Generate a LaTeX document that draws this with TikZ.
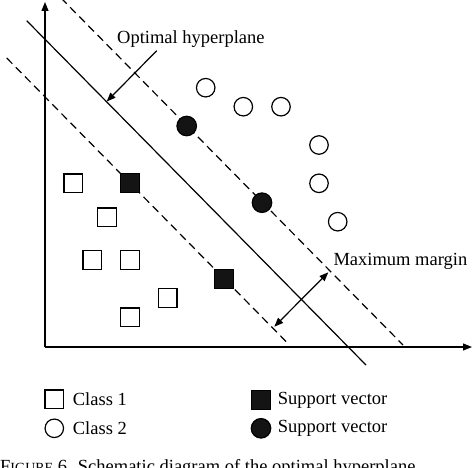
\documentclass[tikz,border=0pt]{standalone}
\usepackage{fontspec}
\setmainfont{Liberation Serif}
\usetikzlibrary{arrows.meta}
\begin{document}
\begin{tikzpicture}[x=1pt,y=-1pt,
  every node/.style={font=\fontsize{18.5}{22}\selectfont},
  ln/.style={line width=1.2pt},
  dsh/.style={line width=1.2pt, dash pattern=on 8pt off 5pt},
  tipend/.style={-{Triangle[length=9pt,width=7pt]}},
  tipboth/.style={{Triangle[length=9pt,width=7pt]}-{Triangle[length=9pt,width=7pt]}},
  osq/.style={draw, line width=1.2pt, minimum size=18.5pt, inner sep=0pt, fill=white},
  fsq/.style={draw, line width=1.2pt, minimum size=19pt, inner sep=0pt, fill=black!92},
  ocirc/.style={circle, draw, line width=1.2pt, minimum size=18.5pt, inner sep=0pt, fill=white},
  fcirc/.style={circle, draw, line width=1.2pt, minimum size=19.5pt, inner sep=0pt, fill=black!92},
  lbl/.style={anchor=west, inner sep=0pt}
]
\useasboundingbox (0,0) rectangle (474,468);
\clip (0,0) rectangle (474,468);

% axes
\coordinate (O) at (45,347);
\coordinate (ytop) at (45,2);
\coordinate (xend) at (472,347);
\draw[ln, tipend] (O) -- (ytop);
\draw[ln, tipend] (O) -- (xend);

% hyperplane and margins
\coordinate (hA) at (26.7,20.7);
\coordinate (hB) at (366,365);
\coordinate (uA) at (61,-2);
\coordinate (uB) at (403,345);
\coordinate (lA) at (6.7,58);
\coordinate (lB) at (288,343.5);
\draw[ln] (hA) -- (hB);
\draw[dsh] (uA) -- (uB);
\draw[dsh] (lA) -- (lB);

% class 2 (circles)
\node[ocirc] (c1) at (205.7,87.7) {};
\node[ocirc] (c2) at (243.3,106.7) {};
\node[ocirc] (c3) at (281,106.7) {};
\node[ocirc] (c4) at (319,145) {};
\node[ocirc] (c5) at (319,183.3) {};
\node[ocirc] (c6) at (337.7,221.7) {};
\node[fcirc] (sc1) at (186.7,126) {};
\node[fcirc] (sc2) at (262,202.7) {};

% class 1 (squares)
\node[osq] (s1) at (73.3,183.3) {};
\node[osq] (s2) at (107,217.3) {};
\node[osq] (s3) at (92.3,260) {};
\node[osq] (s4) at (130,260) {};
\node[osq] (s5) at (167.7,298) {};
\node[osq] (s6) at (130,317.3) {};
\node[fsq] (ss1) at (130,183) {};
\node[fsq] (ss2) at (224,279) {};

% labels and arrows
\node[lbl] (opt) at (117,39) {Optimal hyperplane};
\coordinate (optS) at (156.7,50.7);
\coordinate (optE) at (106.7,101.5);
\draw[ln, tipend] (optS) -- (optE);

\node[lbl] (mm) at (333.3,261.7) {Maximum margin};
\coordinate (mA) at (328.3,272.3);
\coordinate (mB) at (274.3,326.7);
\draw[ln, tipboth] (mA) -- (mB);

% legend
\node[osq] (lg1) at (54.3,399.3) {};
\node[lbl] (lt1) at (72.7,399.3) {Class 1};
\node[ocirc] (lg2) at (54.3,428.3) {};
\node[lbl] (lt2) at (72.7,428.3) {Class 2};
\node[fsq] (lg3) at (261,400) {};
\node[lbl] (lt3) at (277.7,400) {Support vector};
\node[fcirc] (lg4) at (261,428.3) {};
\node[lbl] (lt4) at (277.7,428.3) {Support vector};

% caption (cut off at the bottom)
\node[anchor=base west, inner sep=0pt] (cap) at (0,472.5) {F{\fontsize{14}{16}\selectfont IGURE} 6. Schematic diagram of the optimal hyperplane};
\end{tikzpicture}
\end{document}
